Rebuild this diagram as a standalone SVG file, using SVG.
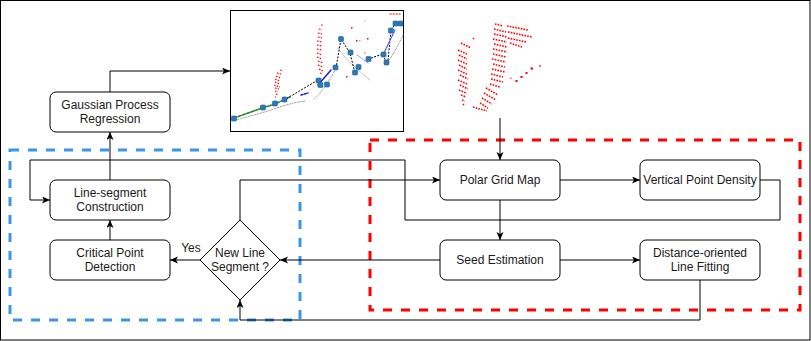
<svg xmlns="http://www.w3.org/2000/svg" width="811" height="341" viewBox="0 0 811 341">
<style>
.node{fill:#fff;stroke:#000;stroke-width:1}
.lbl{font-family:"Liberation Sans",Arial,sans-serif;font-size:12px;fill:#1a1a1a;text-anchor:middle}
.conn{fill:none;stroke:#000;stroke-width:1}
.pc{fill:none;stroke:#ff0000;stroke-width:1.6;stroke-dasharray:1.6 1.2}
.mk{fill:#2b7bba;stroke:#1d5f93;stroke-width:0.6}
</style>
<defs>
<marker id="arr" markerUnits="userSpaceOnUse" markerWidth="9" markerHeight="8" refX="8" refY="3.5" orient="auto">
<path d="M0,0 L8,3.5 L0,7 L2,3.5 z" fill="#000"/>
</marker>
</defs>
<rect x="0.5" y="0.5" width="809.5" height="339.5" fill="#fff" stroke="#000" stroke-width="1"/>

<g id="group-lanes">
<rect x="10" y="150" width="290" height="170" fill="none" stroke="#3C94EC" stroke-width="3" stroke-dasharray="9 9"/>
<rect x="370" y="140" width="430" height="170" fill="none" stroke="#ff0000" stroke-width="3" stroke-dasharray="9 9"/>
</g>

<g id="connectors">
<path class="conn" d="M110,180 L110,132" marker-end="url(#arr)"/>
<path class="conn" d="M110,92 L110,71 L230,71" marker-end="url(#arr)"/>
<path class="conn" d="M500,118 L500,160" marker-end="url(#arr)"/>
<path class="conn" d="M500,200 L500,240" marker-end="url(#arr)"/>
<path class="conn" d="M560,180 L640,180" marker-end="url(#arr)"/>
<path class="conn" d="M760,180 L780,180 L780,220 L405,220 L405,160 L30,160 L30,200 L50,200" marker-end="url(#arr)"/>
<path class="conn" d="M240,220 L240,180 L440,180" marker-end="url(#arr)"/>
<path class="conn" d="M440,260 L280,260" marker-end="url(#arr)"/>
<path class="conn" d="M560,260 L640,260" marker-end="url(#arr)"/>
<path class="conn" d="M700,280 L700,320 L240,320 L240,300" marker-end="url(#arr)"/>
<path class="conn" d="M200,260 L170,260" marker-end="url(#arr)"/>
<path class="conn" d="M110,240 L110,220" marker-end="url(#arr)"/>
<text class="lbl" x="191" y="252">Yes</text>
</g>

<g id="node-gpr">
<rect class="node" x="50" y="92" width="120" height="40" rx="6"/>
<text class="lbl" x="110" y="108.5">Gaussian Process</text>
<text class="lbl" x="110" y="123">Regression</text>
</g>
<g id="node-lsc">
<rect class="node" x="50" y="180" width="120" height="40" rx="6"/>
<text class="lbl" x="110" y="196.5">Line-segment</text>
<text class="lbl" x="110" y="211">Construction</text>
</g>
<g id="node-cpd">
<rect class="node" x="50" y="240" width="120" height="40" rx="6"/>
<text class="lbl" x="110" y="256.5">Critical Point</text>
<text class="lbl" x="110" y="271">Detection</text>
</g>
<g id="node-decision">
<path class="node" d="M240,220 L280,260 L240,300 L200,260 Z"/>
<text class="lbl" x="240" y="256.5">New Line</text>
<text class="lbl" x="240" y="271">Segment ?</text>
</g>
<g id="node-pgm">
<rect class="node" x="440" y="160" width="120" height="40" rx="6"/>
<text class="lbl" x="500" y="184">Polar Grid Map</text>
</g>
<g id="node-vpd">
<rect class="node" x="640" y="160" width="120" height="40" rx="6"/>
<text class="lbl" x="700" y="184">Vertical Point Density</text>
</g>
<g id="node-seed">
<rect class="node" x="440" y="240" width="120" height="40" rx="6"/>
<text class="lbl" x="500" y="264">Seed Estimation</text>
</g>
<g id="node-dlf">
<rect class="node" x="640" y="240" width="120" height="40" rx="6"/>
<text class="lbl" x="700" y="256.5">Distance-oriented</text>
<text class="lbl" x="700" y="271">Line Fitting</text>
</g>

<g id="node-plot">
<rect x="230.5" y="10.5" width="173" height="121" fill="#fff" stroke="#000" stroke-width="1"/>
<g fill="none" stroke-linecap="round">
<path d="M231,121 Q260,114 280,107 Q295,102 306,101" stroke="#9a9a9a" stroke-width="1" stroke-dasharray="1.5 1.5"/>
<path d="M314,99 Q326,88 335,70" stroke="#9a9a9a" stroke-width="1" stroke-dasharray="1.5 1.5"/>
<path d="M338,48 Q348,62 356,68 Q364,75 370,80" stroke="#b0b0b0" stroke-width="1" stroke-dasharray="1.5 1.5"/>
<path d="M386,65 Q396,50 403,35" stroke="#9a9a9a" stroke-width="1" stroke-dasharray="1.5 1.5"/>
<path d="M234,118 L262,108 L275,104 L290,97" stroke="#1f8a1f" stroke-width="1.6" stroke-dasharray="3 1.5"/>
<path d="M284,100 L318,80" stroke="#000" stroke-width="1" stroke-dasharray="1.2 2.2"/>
<path d="M336,68 L341,39 L350,53 L355,73" stroke="#000" stroke-width="1" stroke-dasharray="1.2 2.2"/>
<path d="M368,59 L383,54 L386,62" stroke="#000" stroke-width="1" stroke-dasharray="1.2 2.2"/>
<path d="M388,60 L391,30 L396,23 L401,23" stroke="#000" stroke-width="1" stroke-dasharray="1.2 2.2"/>
<path d="M318,85 L331,70" stroke="#1a1aff" stroke-width="1.5"/>
<path d="M301,95 L308,93" stroke="#1a1aff" stroke-width="1.5" stroke-dasharray="2 1.5"/>
<path d="M357,55 L368,63" stroke="#8080ff" stroke-width="1" stroke-dasharray="1.5 1.5"/>
<path d="M383,55 L395,30" stroke="#5050ff" stroke-width="1.2" stroke-dasharray="1.5 1.2"/>
<path d="M390,14 L402,14" stroke="#ff0000" stroke-width="1" stroke-dasharray="1.2 1.8"/>
</g>
<g class="pc" style="stroke-width:1.2">
<path d="M280,70 l3,1 M277,73 l4,1 M276,76 l5,2 M275,79 l5,2 M275,82 l5,2 M274,85 l6,2 M275,88 l4,1 M275,91 l3,1 M276,94 l2,1 M275,97 l1,0"/>
<path d="M321,25 l2,0 M319,29 l3,1 M318,33 l4,1 M318,37 l4,1 M317,41 l5,1 M317,45 l5,1 M317,49 l5,1 M317,53 l5,2 M317,57 l5,2 M318,61 l5,2 M318,65 l5,2 M319,69 l4,2 M320,73 l3,1"/>
</g>
<g fill="#ff0000">
<rect x="351" y="27" width="1.5" height="1.5"/>
<rect x="356" y="40" width="1.5" height="1.5"/>
<rect x="367" y="38" width="1.5" height="1.5"/>
<rect x="346" y="76" width="1.5" height="1.5"/>
<rect x="364" y="52" width="1.5" height="1.5" fill="#ff8080"/>
<rect x="364" y="20" width="1.5" height="1.5" fill="#ffb0b0"/>
<rect x="359" y="40" width="1.5" height="1.5" fill="#ff9090"/>
</g>
<g class="mk">
<rect x="231.5" y="116" width="5" height="5" rx="1"/>
<rect x="260.5" y="105" width="5" height="5" rx="1"/>
<rect x="272.5" y="101" width="5" height="5" rx="1"/>
<rect x="282" y="97" width="5" height="5" rx="1"/>
<rect x="316" y="78" width="5" height="5" rx="1"/>
<rect x="318" y="82.5" width="5" height="5" rx="1"/>
<rect x="324.5" y="82" width="5" height="5" rx="1"/>
<rect x="333" y="65" width="5" height="5" rx="1"/>
<rect x="338.5" y="36.5" width="5" height="5" rx="1"/>
<rect x="348" y="50" width="5" height="5" rx="1"/>
<rect x="352.5" y="70" width="5" height="5" rx="1"/>
<rect x="356" y="64.5" width="5" height="5" rx="1"/>
<rect x="366" y="56.5" width="5" height="5" rx="1"/>
<rect x="381" y="52" width="5" height="5" rx="1"/>
<rect x="384" y="60" width="5" height="5" rx="1"/>
<rect x="388.5" y="28" width="5" height="5" rx="1"/>
<rect x="393" y="21" width="5" height="5" rx="1"/>
<rect x="398" y="21" width="5" height="5" rx="1"/>
</g>
</g>

<g id="node-pointcloud">
<path class="pc" d="M461,43 l10,5 M458,50 l9,4 M459,55 l8,4 M458,60 l9,4 M459,65 l8,4 M458,70 l9,4 M460,75 l8,4 M458,80 l9,4 M460,85 l8,4 M459,90 l7,3 M461,95 l5,2 M462,100 l3,1 M463,104 l1,1 M473,38 l1,1"/>
<path class="pc" d="M495,24 l8,2 M494,29 l12,3 M494,34 l13,3 M493,39 l14,3 M494,44 l13,3 M493,49 l14,3 M493,54 l13,3 M492,59 l14,3 M493,64 l12,3 M492,69 l13,3 M491,74 l12,3 M491,79 l12,3 M490,84 l10,3 M486,88 l12,7 M484,93 l12,7 M482,98 l10,6 M480,103 l8,5 M473,107 l14,4"/>
<path class="pc" d="M507,26 l21,4 M508,32 l24,5 M508,38 l18,4 M510,43 l12,4"/>
<g fill="#ff0000">
<rect x="530.5" y="67.5" width="2.5" height="2" />
<rect x="539" y="65" width="2" height="2" fill="#ff7070"/>
<rect x="525.5" y="72" width="2" height="2"/>
<rect x="520.5" y="76" width="2" height="2"/>
<rect x="515.5" y="80" width="2" height="2"/>
<rect x="510" y="77.5" width="1.5" height="1.5" fill="#ff6060"/>
</g>
</g>
</svg>
